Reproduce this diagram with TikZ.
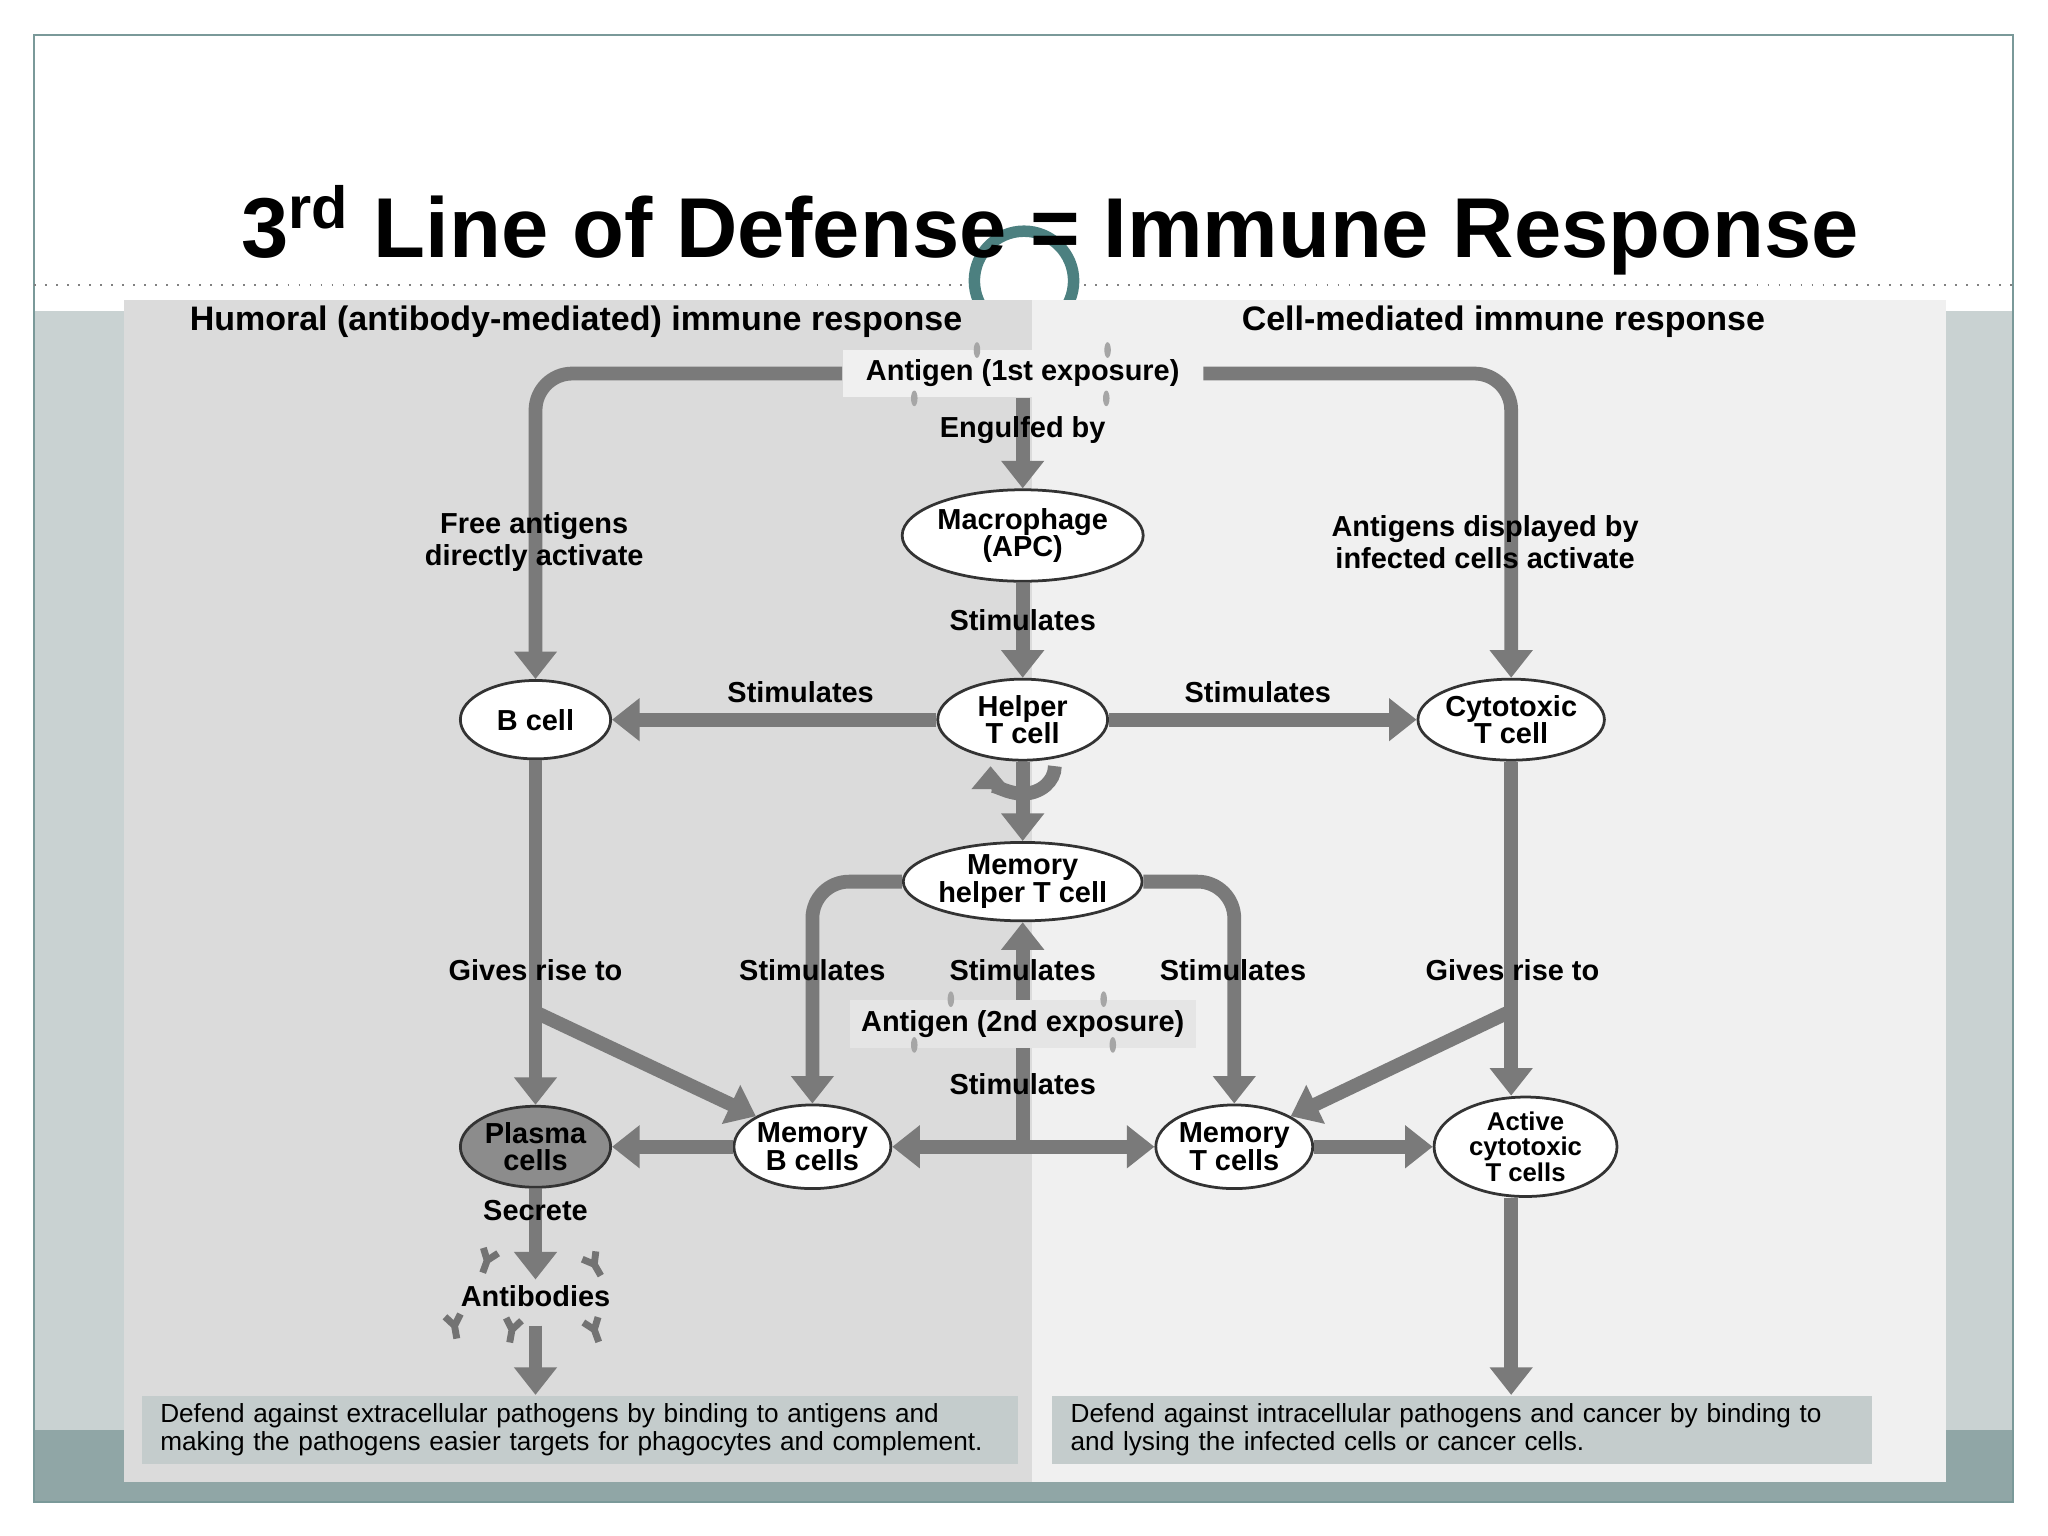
\documentclass[tikz,border=0pt]{standalone}
\usepackage{fontspec}
\setmainfont{Liberation Sans}
\usetikzlibrary{arrows.meta,shapes.geometric}
\begin{document}
\begin{tikzpicture}[x=0.01cm,y=-0.01cm,
  flow/.style={draw=black!52,line width=3pt,-{Triangle[length=6pt,width=9pt]},rounded corners=8pt},
  line/.style={draw=black!52,line width=3pt,rounded corners=8pt},
  cell/.style={ellipse,draw=black!80,line width=0.6pt,fill=white,inner sep=0pt,align=center,font=\fontsize{6.3}{6}\selectfont\bfseries},
  lab/.style={font=\fontsize{6.3}{7}\selectfont\bfseries,align=center,inner sep=1pt},
  head/.style={font=\fontsize{7.4}{8}\selectfont\bfseries},
  note/.style={font=\fontsize{5.7}{6}\selectfont,align=left,inner ysep=0pt,inner xsep=1.4mm,anchor=north west,minimum height=5.2mm}]
\useasboundingbox (0,0) rectangle (1568,1176);
% slide background
\fill[white] (0,0) rectangle (1568,1176);
\fill[teal!20!gray!35] (26,238) rectangle (1541,1150);
\fill[teal!25!gray!70] (26,1095) rectangle (1541,1150);
\draw[teal!30!gray!80,line width=0.5pt] (26,27) rectangle (1541,1150);
\draw[gray,dotted,line width=0.4pt] (26,218) -- (740,218) (830,218) -- (1541,218);
\draw[teal!40!gray,line width=2.5pt,fill=white] (784,215) circle (38);
\node[font=\fontsize{18.5}{22}\selectfont\bfseries] (title) at (804,176) {3\textsuperscript{rd} Line of Defense = Immune Response};
% diagram panels
\fill[black!14] (95,230) rectangle (790,1135);
\fill[black!6] (790,230) rectangle (1490,1135);
\node[head] (h1) at (441,246) {Humoral (antibody-mediated) immune response};
\node[head] (h2) at (1151,246) {Cell-mediated immune response};
% nodes
\node[lab,fill=black!6,minimum width=27.5mm,minimum height=3.6mm] (ag1) at (783,286) {Antigen (1st exposure)};
\node[cell,minimum width=14mm,minimum height=7mm] (mac) at (783,410) {Macrophage\\(APC)};
\node[cell,minimum width=13mm,minimum height=6.2mm] (help) at (783,551) {Helper\\T cell};
\node[cell,minimum width=11.5mm,minimum height=6mm] (bc) at (410,551) {B cell};
\node[cell,minimum width=11.5mm,minimum height=6.2mm] (cyt) at (1157,551) {Cytotoxic\\T cell};
\node[cell,minimum width=13.5mm,minimum height=6mm] (mh) at (783,675) {Memory\\helper T cell};
\node[lab,fill=black!10,minimum width=26.5mm,minimum height=3.6mm] (ag2) at (783,784) {Antigen (2nd exposure)};
\node[cell,fill=black!45,minimum width=11.5mm,minimum height=6.2mm] (pl) at (410,878) {Plasma\\cells};
\node[cell,minimum width=11.2mm,minimum height=6.4mm] (mb) at (622,878) {Memory\\B cells};
\node[cell,minimum width=11.2mm,minimum height=6.4mm] (mt) at (945,878) {Memory\\T cells};
\node[cell,minimum width=14mm,minimum height=6.2mm,font=\fontsize{5.6}{5.6}\selectfont\bfseries] (act) at (1168,878) {Active\\cytotoxic\\T cells};
\node[lab] (ab) at (410,992) {Antibodies};
\coordinate (abo) at (410,1015);
\node[note,fill=teal!15!gray!40,text width=64.2mm] (n1) at (108,1068) {Defend against extracellular pathogens by binding to antigens and\\making the pathogens easier targets for phagocytes and complement.};
\node[note,fill=teal!15!gray!40,text width=59.9mm] (n2) at (805,1068) {Defend against intracellular pathogens and cancer by binding to\\and lysing the infected cells or cancer cells.};
\coordinate (bsplit) at (410,775);
\coordinate (csplit) at (1155,775);
\coordinate (a2s) at (783,878);
% connectors
\draw[flow] (ag1.west) -| (bc.north);
\draw[flow] (ag1.east) -| (cyt.north);
\draw[flow] (ag1) -- (mac);
\draw[flow] (mac) -- (help);
\draw[flow] (help) -- (bc);
\draw[flow] (help) -- (cyt);
\draw[flow] (help) -- (mh);
\draw[draw=black!52,line width=3pt,-{Triangle[length=5pt,width=8pt]}] ([xshift=7pt,yshift=-1pt]help.south) arc (0:-180:7pt and 6pt);
\draw[flow] (mh.west) -| (mb.north);
\draw[flow] (mh.east) -| (mt.north);
\draw[flow] (ag2) -- (mh);
\draw[line] (ag2) -- (a2s);
\draw[flow] (a2s) -- (mb);
\draw[flow] (a2s) -- (mt);
\draw[flow] (bc) -- (pl);
\draw[flow] (bsplit) -- (mb.north west);
\draw[flow] (cyt.south) -- (cyt.south|-act.north);
\draw[flow] (csplit) -- (mt.north east);
\draw[flow] (mb) -- (pl);
\draw[flow] (mt) -- (act);
\draw[flow] (pl) -- (ab);
\draw[flow] (abo) -- (abo|-n1.north);
\draw[flow] (cyt.south|-act.south) -- (cyt.south|-n2.north);
% labels
\node[lab] (l1) at (783,329) {Engulfed by};
\node[lab] (l2) at (783,475) {Stimulates};
\node[lab] (l3) at (613,530) {Stimulates};
\node[lab] (l4) at (963,530) {Stimulates};
\node[lab] (l5) at (409,415) {Free antigens\\directly activate};
\node[lab] (l6) at (1137,415) {Antigens displayed by\\infected cells activate};
\node[lab] (l7) at (410,743) {Gives rise to};
\node[lab] (l8) at (1158,743) {Gives rise to};
\node[lab] (l9) at (622,743) {Stimulates};
\node[lab] (l10) at (783,743) {Stimulates};
\node[lab] (l11) at (944,743) {Stimulates};
\node[lab] (l12) at (783,830) {Stimulates};
\node[lab] (l13) at (410,927) {Secrete};
% antibody glyphs
\foreach \px/\py/\r in {373/965/-20,455/968/30,348/1015/10,392/1018/-10,455/1018/20}
  \draw[black!55,line width=1.5pt,rotate around={\r:(\px,\py)}] (\px,\py+10) -- (\px,\py) -- (\px-6,\py-8) (\px,\py) -- (\px+6,\py-8);
% antigen glyphs
\foreach \px/\py in {748/268,848/268,700/305,847/305,728/765,845/765,700/800,852/800}
  \fill[black!35] (\px,\py) ellipse (2.5 and 6);
\end{tikzpicture}
\end{document}
